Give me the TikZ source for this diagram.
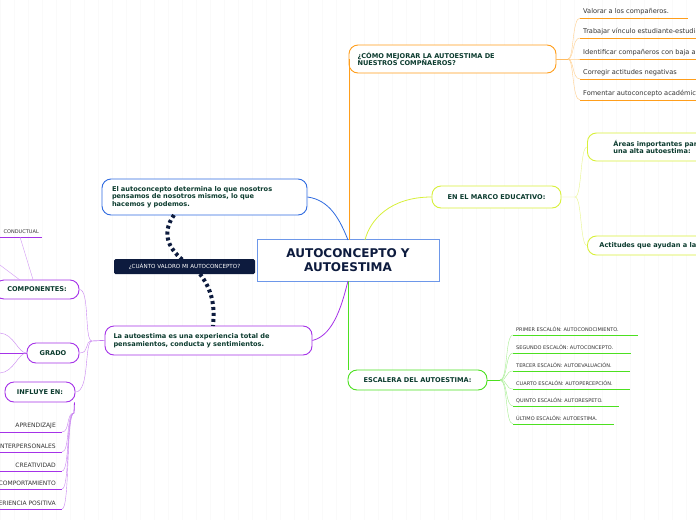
\documentclass[tikz,border=0pt]{standalone}
\usepackage{fontspec}
\setmainfont{DejaVu Sans}
\begin{document}
\begin{tikzpicture}[x=1pt,y=-1pt,
 box/.style={draw,rounded corners=9pt,line width=0.9pt,fill=white,font=\fontsize{6.6}{7.8}\selectfont\bfseries,text=dgreen,align=left,inner sep=0pt},
 leaf/.style={anchor=south west,inner sep=1pt,font=\fontsize{6.6}{8}\selectfont,text=black!80},
 sleaf/.style={anchor=south west,inner sep=1pt,font=\fontsize{5}{6}\selectfont,text=black!80},
 rleaf/.style={anchor=south east,inner sep=1pt,font=\fontsize{6}{7}\selectfont,text=black!80}]
\definecolor{dgreen}{HTML}{0B3B2E}
\definecolor{navy}{HTML}{0D1B3E}
\definecolor{orng}{HTML}{FF9E1B}
\definecolor{ylw}{HTML}{D8F03A}
\definecolor{grn}{HTML}{4CE020}
\definecolor{blu}{HTML}{2F6BE0}
\definecolor{purp}{HTML}{A532E8}
\useasboundingbox (0,0) rectangle (696,520);
\fill[white] (0,0) rectangle (696,520);
\draw[black!2,step=14] (0,0) grid (696,520);
% center
\node[draw=blu!70,fill=white,minimum width=182,minimum height=42,inner sep=0,align=center,text=navy,font=\fontsize{12}{13.5}\selectfont\bfseries] (c) at (348,260) {AUTOCONCEPTO Y\\AUTOESTIMA};
% orange
\node[box,draw=orng,minimum width=207,minimum height=28,text width=190] (o) at (452.5,59) {¿CÓMO MEJORAR LA AUTOESTIMA DE\\NUESTROS COMPÑAEROS?};
\draw[orng,line width=0.8] (o.west) -- (349,59) -- (349,240);
\coordinate (oj) at (568,59);
\draw[orng!70] (o.east) -- (oj);
\foreach \y/\e/\t in {18/688/Valorar a los compañeros.,38/700/Trabajar vínculo estudiante-estudiante,59/700/Identificar compañeros con baja autoestima,79/700/Corregir actitudes negativas,100/700/Fomentar autoconcepto académico}{
 \draw[orng!50] (oj) .. controls (574,59) and (572,\y) .. (580,\y);
 \draw[orng,line width=1] (580,\y) -- (\e,\y);
 \node[leaf] at (582,\y-2) {\t};}
% yellow
\node[box,draw=ylw,minimum width=129,minimum height=22,align=center] (y) at (496.5,197) {EN EL MARCO EDUCATIVO:};
\draw[ylw,line width=0.8] (y.west) .. controls (390,197) and (370,220) .. (365,240);
\node[box,draw=ylw,minimum width=130,minimum height=28,anchor=west,text width=110] (y1) at (587,147) {\hspace*{16pt}Áreas importantes para\\\hspace*{16pt}una alta autoestima:};
\node[box,draw=ylw,minimum height=19,anchor=west,inner xsep=12pt] (y2) at (587,245.5) {Actitudes que ayudan a la autoestima};
\draw[ylw!60] (y.east) -- (575,197) .. controls (582,197) and (580,147) .. (y1.west);
\draw[ylw!60] (575,197) .. controls (582,197) and (580,245.5) .. (y2.west);
% green
\node[box,draw=grn,minimum width=139,minimum height=20,align=center] (g) at (417.5,380) {ESCALERA DEL AUTOESTIMA:};
\draw[grn,line width=0.8] (c.south) -- (348,370);
\coordinate (gj) at (500,380);
\draw[grn] (g.east) -- (gj);
\foreach \y/\e/\t in {335/638/PRIMER ESCALÓN: AUTOCONOCIMIENTO.,353/631/SEGUNDO ESCALÓN: AUTOCONCEPTO.,371/630/TERCER ESCALÓN: AUTOEVALUACIÓN.,389/630/CUARTO ESCALÓN: AUTOPERCEPCIÓN.,406/619/QUINTO ESCALÓN: AUTORESPETO.,424/614/ÚLTIMO ESCALÓN: AUTOESTIMA.}{
 \draw[grn!50] (gj) .. controls (508,380) and (505,\y) .. (513,\y);
 \draw[grn,line width=1] (513,\y) -- (\e,\y);
 \node[sleaf] at (515,\y-2) {\t};}
% blue
\node[box,draw=blu,minimum width=205,minimum height=36,text width=185] (b) at (204.5,197) {El autoconcepto determina lo que nosotros\\pensamos de nosotros mismos, lo que\\hacemos y podemos.};
\draw[blu,line width=0.8] (b.east) .. controls (330,200) and (340,220) .. (348,240);
% purple
\node[box,draw=purp,minimum width=207,minimum height=29,text width=190] (p) at (208.5,340.5) {La autoestima es una experiencia total de\\pensamientos, conducta y sentimientos.};
\draw[purp,line width=0.8] (p.east) .. controls (335,335) and (343,300) .. (348,281);
% label
\node[fill=navy,text=white,rounded corners=1.5pt,minimum width=141,minimum height=15,inner sep=0,font=\fontsize{5.6}{6.5}\selectfont] (q) at (184.5,266.5) {¿CUÁNTO VALORO MI AUTOCONCEPTO?};
\draw[navy,line width=4,dash pattern=on 3pt off 3pt] (174,215) .. controls (160,235) and (170,250) .. (185,262) (200,274) .. controls (212,290) and (215,305) .. (213,326);
% purple children
\coordinate (pj) at (92,341);
\draw[purp] (p.west) -- (pj);
\node[box,draw=purp,minimum width=84,minimum height=19,align=center] (k1) at (37,289.5) {COMPONENTES:};
\node[box,draw=purp,minimum width=52,minimum height=20,align=center] (k2) at (53,353) {GRADO};
\node[box,draw=purp,minimum width=70,minimum height=20,align=center] (k3) at (40,392) {INFLUYE EN:};
\foreach \k in {k1,k2,k3}{\draw[purp!60] (pj) .. controls (84,341) and (90,0 |- \k.east) .. (\k.east);}
% componentes
\draw[purp,line width=1] (0,237) -- (42,237);
\node[rleaf,font=\fontsize{5}{6}\selectfont] at (40,235) {CONDUCTUAL};
\draw[purp!50] (k1.north -| 33,0) -- (20,237);
\draw[purp!50] (20,280) -- (0,265);
% grado
\draw[purp,line width=0.8] (0,353) -- (k2.west);
\draw[purp!60] (k2.west) .. controls (18,353) and (14,334) .. (0,333);
\draw[purp!60] (k2.west) .. controls (18,353) and (14,372) .. (0,373);
% influye
\draw[purp,line width=0.8] (k3.south east) ++(-1,0) coordinate (ij) -- (74,413);
\foreach \y/\t in {432/APRENDIZAJE,452/RELACIONES INTERPERSONALES,471/CREATIVIDAD,489/COMPORTAMIENTO,509/EXPERIENCIA POSITIVA}{
 \draw[purp!60] (74,413) .. controls (66,413) and (70,\y) .. (62,\y);
 \draw[purp,line width=1] (0,\y) -- (62,\y);
 \node[rleaf] at (57,\y-2) {\t};}
\end{tikzpicture}
\end{document}
